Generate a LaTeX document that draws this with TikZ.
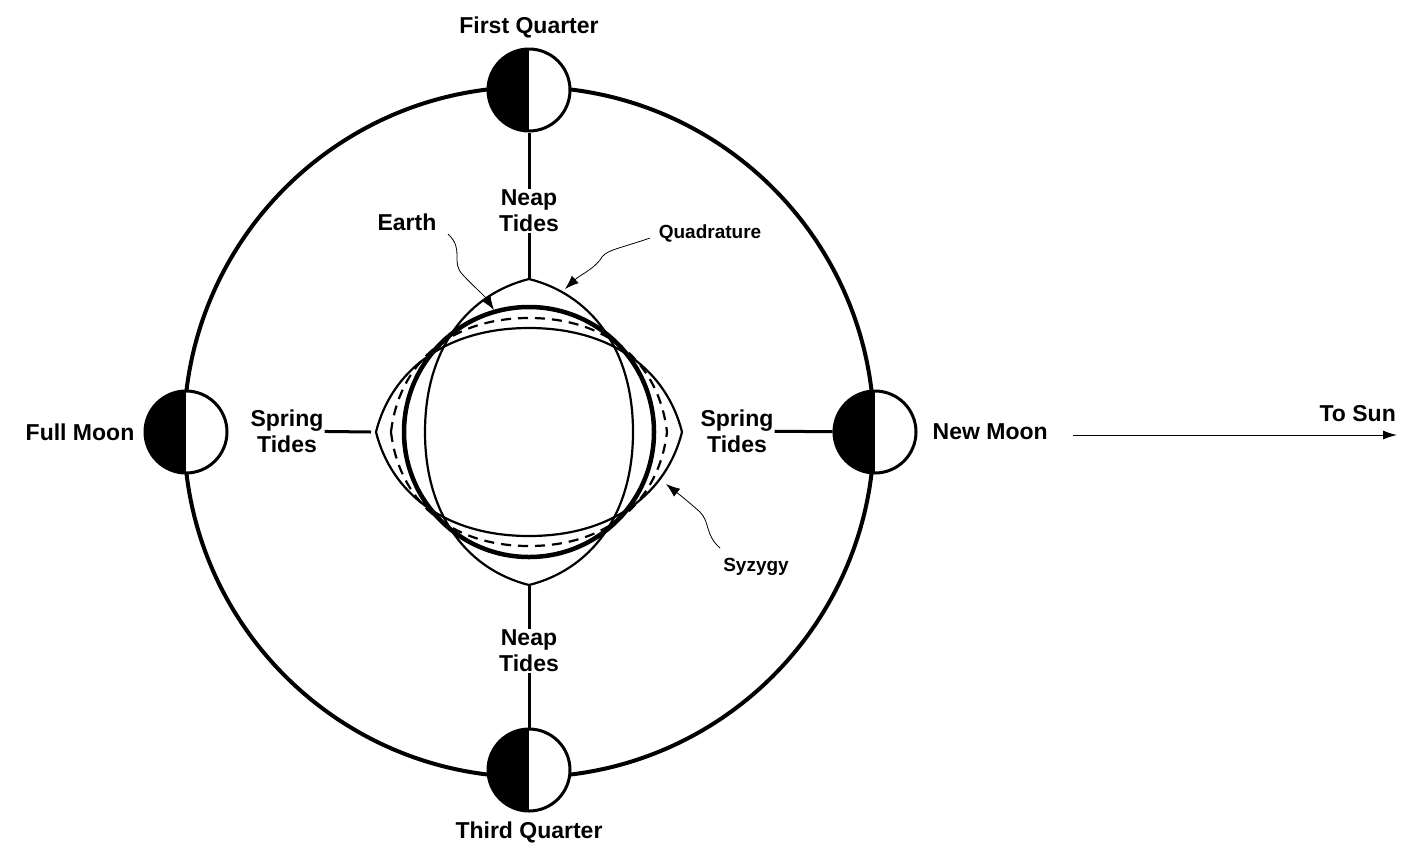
\documentclass[tikz,border=0pt]{standalone}
\usepackage{fontspec}
\setmainfont{Liberation Sans}
\usetikzlibrary{positioning,arrows.meta}
\tikzset{
  moon/.style={circle,draw,line width=3pt,minimum size=82pt,inner sep=0pt,fill=white,
    path picture={\fill[black] (path picture bounding box.south) rectangle (path picture bounding box.north west);}},
  lbl/.style={font=\bfseries\fontsize{23}{26}\selectfont,align=center,inner sep=1pt},
  small/.style={font=\bfseries\fontsize{19}{21}\selectfont,inner sep=1pt},
  spoke/.style={line width=3pt},
  tide/.style={line width=2.2pt},
  ptr/.style={line width=0.8pt,-{Latex[length=14pt,width=10pt]}}
}
\begin{document}
\begin{tikzpicture}[x=1pt,y=-1pt]
\useasboundingbox (0,0) rectangle (1421,847);
% orbit
\coordinate (c) at (529,432);
\draw[line width=4pt] (c) circle (345);
% tidal shapes
\draw[tide] (c) ++(-153,0) .. controls ++(15,-60) and ++(-85,0) .. ++(153,-104)
  .. controls ++(85,0) and ++(-15,-60) .. ++(153,104)
  .. controls ++(-15,60) and ++(85,0) .. ++(-153,104)
  .. controls ++(-85,0) and ++(15,60) .. cycle;
\draw[tide] (c) ++(0,-153) .. controls ++(60,15) and ++(0,-85) .. ++(104,153)
  .. controls ++(0,85) and ++(60,-15) .. ++(-104,153)
  .. controls ++(-60,-15) and ++(0,85) .. ++(-104,-153)
  .. controls ++(0,-85) and ++(-60,15) .. cycle;
\draw[tide,dash pattern=on 10pt off 7pt] (c) ++(-138,0) .. controls ++(8,-68) and ++(-80,0) .. ++(138,-114)
  .. controls ++(80,0) and ++(-8,-68) .. ++(138,114)
  .. controls ++(-8,68) and ++(80,0) .. ++(-138,114)
  .. controls ++(-80,0) and ++(8,68) .. cycle;
\draw[line width=4.5pt] (c) circle (125);
% moons
\node[moon] (fq) at (529,90) {};
\node[moon] (tq) at (529,770) {};
\node[moon] (fm) at (186,432) {};
\node[moon] (nm) at (875,432) {};
\node[lbl,above=8pt of fq] {First Quarter};
\node[lbl,below=8pt of tq] {Third Quarter};
\node[lbl,left=8pt of fm] {Full Moon};
\node[lbl,right=14pt of nm] (nml) {New Moon};
% spokes
\node[lbl] (nt) at (529,211) {Neap\\Tides};
\node[lbl] (nb) at (529,651) {Neap\\Tides};
\node[lbl] (sl) at (287,431) {Spring\\Tides};
\node[lbl] (sr) at (737,431) {Spring\\Tides};
\draw[spoke] (fq) -- (nt);
\draw[spoke] (nt) -- (529,278);
\draw[spoke] (tq) -- (nb);
\draw[spoke] (nb) -- (529,586);
\draw[spoke] (sl) -- (371,432);
\draw[spoke] (nm) -- (sr);
% labels with pointers
\node[lbl] (earth) at (407,222) {Earth};
\node[small] (quad) at (710,233) {Quadrature};
\node[small] (syz) at (756,567) {Syzygy};
\draw[ptr] (448,234) .. controls (465,250) and (450,262) .. (463,275) .. controls (475,288) and (484,295) .. (494,310);
\draw[ptr] (650,238) .. controls (615,250) and (605,250) .. (600,260) .. controls (592,270) and (580,275) .. (565,289);
\draw[ptr] (720,548) .. controls (705,535) and (710,522) .. (700,512) .. controls (690,503) and (680,495) .. (666,484);
% sun
\coordinate (s0) at (1073,435);
\coordinate (s1) at (1397,435);
\draw[line width=1pt,-{Latex[length=14pt,width=9pt]}] (s0) -- (s1);
\node[lbl,anchor=south east] (sun) at (1397,423) {To Sun};
\end{tikzpicture}
\end{document}
